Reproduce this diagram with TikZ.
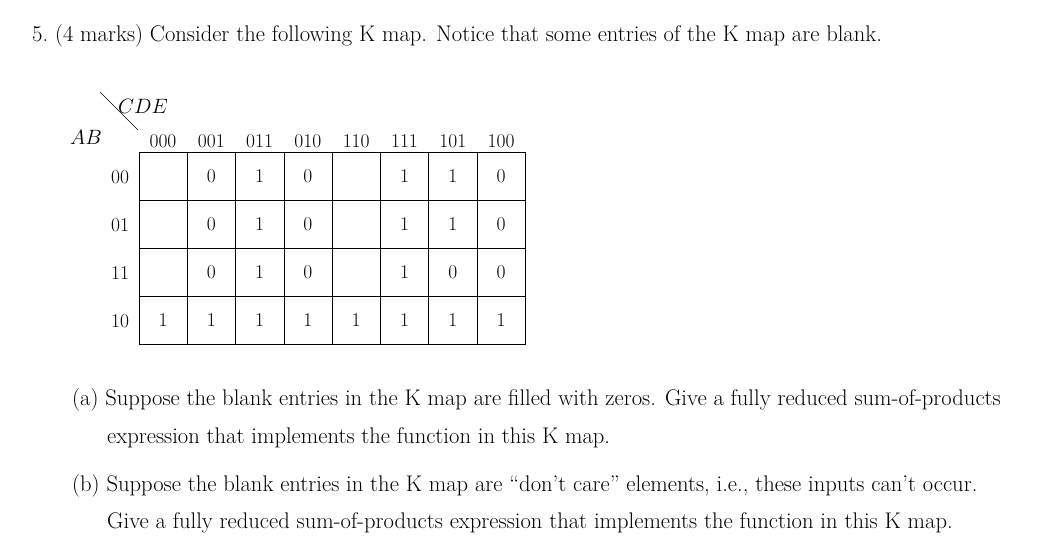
\documentclass[tikz,border=0pt]{standalone}
\begin{document}
\begin{tikzpicture}[x=1pt,y=-1pt,
  txt/.style={anchor=west,inner sep=0,font=\fontsize{22.6}{26}\selectfont},
  lab/.style={inner sep=0,font=\fontsize{19.5}{22}\selectfont},
  cell/.style={draw,minimum width=48.3pt,minimum height=48pt,inner sep=0,font=\fontsize{19.5}{22}\selectfont}]
\useasboundingbox (0,0) rectangle (1038,550);
\node[txt] (t) at (32,36) {5.\ (4 marks) Consider the following K map. Notice that some entries of the K map are blank.};
\coordinate (d1) at (100,92); \coordinate (d2) at (138,130);
\draw[line width=0.6pt] (d1) -- (d2);
\node[lab] (cde) at (143,106) {$CDE$};
\node[lab] (ab) at (86,137) {$AB$};
\foreach \c [count=\i from 0] in {000,001,011,010,110,111,101,100}
  \node[lab] (c\i) at (163+48.3*\i,141) {\c};
\foreach \r [count=\j from 0] in {00,01,11,10}
  \node[lab] (r\j) at (120,177+48*\j) {\r};
\foreach \row [count=\j from 0] in {{{},0,1,0,{},1,1,0},{{},0,1,0,{},1,1,0},{{},0,1,0,{},1,0,0},{1,1,1,1,1,1,1,1}}
  \foreach \v [count=\i from 0] in \row
    \node[cell] (k\i\j) at (163+48.3*\i,176+48*\j) {\v};
\node[txt] (a) at (72,400) {(a)\ Suppose the blank entries in the K map are filled with zeros. Give a fully reduced sum-of-products};
\node[txt] (a2) at (107,438) {expression that implements the function in this K map.};
\node[txt] (b) at (72,486) {(b)\ Suppose the blank entries in the K map are ``don't care'' elements, i.e., these inputs can't occur.};
\node[txt] (b2) at (107,523) {Give a fully reduced sum-of-products expression that implements the function in this K map.};
\end{tikzpicture}
\end{document}
